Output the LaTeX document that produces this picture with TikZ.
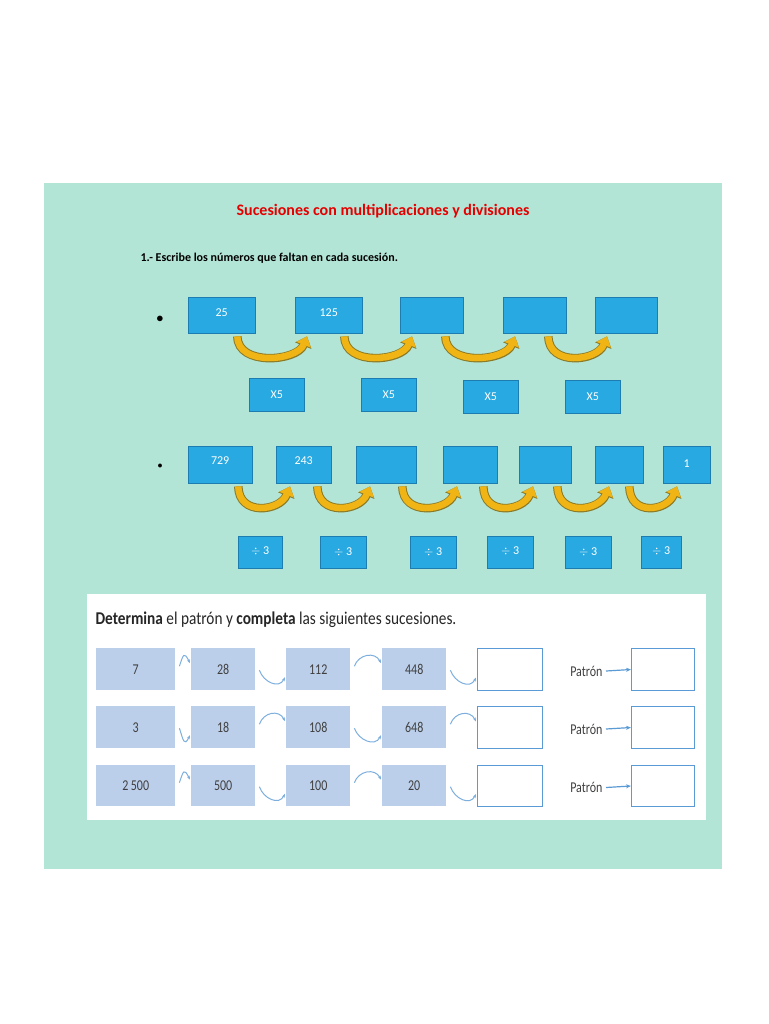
\documentclass[tikz,border=0pt]{standalone}
\usepackage{fontspec}
\setmainfont{Carlito}
\usetikzlibrary{arrows.meta}
\definecolor{bgg}{HTML}{B3E5D6}
\definecolor{bb}{HTML}{29A9E1}
\definecolor{bbd}{HTML}{1E7DB0}
\definecolor{gold}{HTML}{F0B414}
\definecolor{goldd}{HTML}{8A7A28}
\definecolor{lb}{HTML}{BCCFEA}
\definecolor{ab}{HTML}{5B9BD5}
\begin{document}
\begin{tikzpicture}[x=1pt,y=-1pt,
  bbox/.style={draw=bbd,fill=bb,text=white,font=\fontsize{12}{12}\selectfont,inner sep=0pt},
  gar/.style={line width=6.5pt,draw=gold,-{Triangle[width=15pt,length=9pt]}},
  garo/.style={line width=8.5pt,draw=goldd,-{Triangle[width=17pt,length=10pt]}},
  lbox/.style={fill=lb,inner sep=0pt,font=\fontsize{15}{15}\selectfont\addfontfeature{FakeStretch=0.8},text=black!75},
  wbox/.style={draw=ab,line width=1pt,fill=white,inner sep=0pt},
  sar/.style={draw=ab!80,line width=1pt,-{Stealth[length=4pt]}}]
\useasboundingbox (0,0) rectangle (768,1024);
\fill[white] (0,0) rectangle (768,1024);
\fill[bgg] (44,183) rectangle (722,869);
\node[text=red!90!black,font=\bfseries\fontsize{16}{16}\selectfont] (title) at (383,211) {Sucesiones con multiplicaciones y divisiones};
\node[anchor=west,font=\bfseries\fontsize{12}{12}\selectfont] (sub) at (137,258) {1.- Escribe los números que faltan en cada sucesión.};
\node[font=\Large] (bul1) at (160,319) {$\bullet$};
\node (bul2) at (160,466) {$\bullet$};
\newcommand\bx[6]{\node[bbox,minimum width=#4-#3,minimum height=#6-#5,anchor=north west,align=center] (#1) at (#3,#5) {#2};}
\bx{a1}{\raisebox{5pt}{25}}{188}{255}{297}{333}
\bx{a2}{\raisebox{5pt}{125}}{295}{362}{297}{333}
\bx{a3}{}{400}{463}{297}{333}
\bx{a4}{}{503}{566}{297}{333}
\bx{a5}{}{595}{657}{297}{333}
\bx{m1}{X5}{249}{304}{378}{411}
\bx{m2}{X5}{361}{416}{378}{411}
\bx{m3}{X5}{463}{518}{380}{413}
\bx{m4}{X5}{565}{620}{380}{413}
\foreach \i/\j in {a1/a2,a2/a3,a3/a4,a4/a5}{
  \draw[garo] ([xshift=-18pt,yshift=-3pt]\i.south east) .. controls +(0,30) and +(-10,25) .. ([xshift=12pt,yshift=-3pt]\j.south west);
  \draw[gar] ([xshift=-18pt,yshift=-3pt]\i.south east) .. controls +(0,30) and +(-10,25) .. ([xshift=12pt,yshift=-3pt]\j.south west);
}
\bx{b1}{\raisebox{8pt}{729}}{188}{252}{446}{483}
\bx{b2}{\raisebox{8pt}{243}}{276}{331}{446}{483}
\bx{b3}{}{356}{416}{446}{483}
\bx{b4}{}{443}{497}{446}{483}
\bx{b5}{}{519}{571}{446}{483}
\bx{b6}{}{595}{643}{446}{483}
\bx{b7}{\raisebox{3pt}{1}}{663}{710}{446}{483}
\foreach \i/\j in {b1/b2,b2/b3,b3/b4,b4/b5,b5/b6,b6/b7}{
  \draw[garo] ([xshift=-14pt,yshift=-3pt]\i.south east) .. controls +(0,30) and +(-10,25) .. ([xshift=14pt,yshift=-3pt]\j.south west);
  \draw[gar] ([xshift=-14pt,yshift=-3pt]\i.south east) .. controls +(0,30) and +(-10,25) .. ([xshift=14pt,yshift=-3pt]\j.south west);
}
\bx{d1}{\raisebox{3pt}{$\div$ 3}}{238}{282}{536}{568}
\bx{d2}{$\div$ 3}{320}{366}{536}{568}
\bx{d3}{$\div$ 3}{410}{456}{536}{568}
\bx{d4}{\raisebox{3pt}{$\div$ 3}}{487}{533}{536}{568}
\bx{d5}{$\div$ 3}{565}{611}{536}{568}
\bx{d6}{\raisebox{3pt}{$\div$ 3}}{641}{681}{536}{568}
\fill[white] (87,594) rectangle (706,820);
\node[anchor=west,text=black!85,font=\fontsize{18}{18}\selectfont\addfontfeature{FakeStretch=0.85}] (det) at (92,620) {\textbf{Determina} el patrón y \textbf{completa} las siguientes sucesiones.};
\newcommand\lb[6]{\node[lbox,minimum width=#4-#3,minimum height=#6-#5,anchor=north west] (#1) at (#3,#5) {#2};}
\newcommand\wb[5]{\node[wbox,minimum width=#3-#2,minimum height=#5-#4,anchor=north west] (#1) at (#2,#4) {};}
\foreach \r/\yt/\yb/\na/\nb/\nc/\nd in {1/648/690/7/28/112/448, 2/706/748/3/18/108/648, 3/765/806/2\,500/500/100/20}{
  \lb{r\r a}{\na}{96}{175}{\yt}{\yb}
  \lb{r\r b}{\nb}{191}{255}{\yt}{\yb}
  \lb{r\r c}{\nc}{286}{350}{\yt}{\yb}
  \lb{r\r d}{\nd}{382}{446}{\yt}{\yb}
  \wb{r\r e}{477}{542}{\yt}{\yb}
  \node[anchor=east,text=black!75,font=\fontsize{15}{15}\selectfont\addfontfeature{FakeStretch=0.8}] (r\r p) at (606,{(\yt+\yb)/2+2}) {Patrón};
  \wb{r\r f}{631}{694}{\yt}{\yb}
  \draw[line width=1.2pt,draw=ab,-{Stealth[length=5pt,width=4pt]}] (r\r p.east) -- (r\r f.west);
}
\newcommand\arcap[2]{\draw[sar] ([xshift=4pt,yshift=3pt]#1.east) .. controls +(4,-12) and +(-6,-12) .. ([xshift=-1pt,yshift=6pt]#2.west);}
\newcommand\arcup[2]{\draw[sar] ([xshift=4pt,yshift=-1pt]#1.east) .. controls +(4,12) and +(-6,12) .. ([xshift=-1pt,yshift=-8pt]#2.west);}
\arcap{r1a}{r1b}\arcup{r1b}{r1c}\arcap{r1c}{r1d}\arcup{r1d}{r1e}
\arcup{r2a}{r2b}\arcap{r2b}{r2c}\arcup{r2c}{r2d}\arcap{r2d}{r2e}
\arcap{r3a}{r3b}\arcup{r3b}{r3c}\arcap{r3c}{r3d}\arcup{r3d}{r3e}
\end{tikzpicture}
\end{document}
